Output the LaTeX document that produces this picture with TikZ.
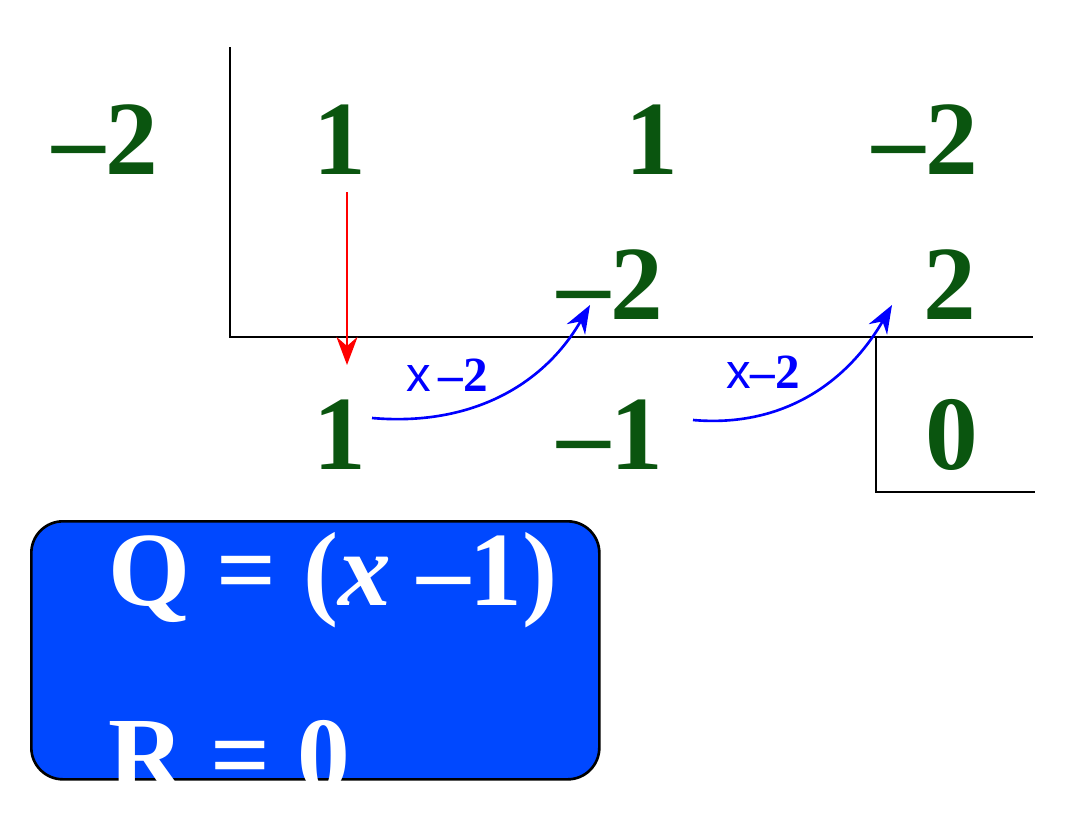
\documentclass[tikz,border=0pt]{standalone}
\usepackage{fontspec}
\usetikzlibrary{arrows.meta}
\setmainfont{Liberation Serif}
\newfontfamily\lsans{Liberation Sans}
\definecolor{dgreen}{RGB}{10,85,15}
\definecolor{boxblue}{RGB}{0,72,255}
\tikzset{num/.style={text=dgreen,font=\fontsize{60}{64}\selectfont\bfseries,inner sep=0pt},
  mul/.style={text=blue,font=\fontsize{28}{30}\selectfont,inner sep=0pt}}
\begin{document}
\begin{tikzpicture}[x=0.02cm,y=-0.02cm,line width=1.5pt]
  \useasboundingbox (0,0) rectangle (1070,839);
  \node[num] (d) at (105,140) {\textendash2};
  \node[num] (a1) at (340,140) {1};
  \node[num] (a2) at (652,140) {1};
  \node[num] (a3) at (925,140) {\textendash2};
  \node[num] (m2) at (610,285) {\textendash2};
  \node[num] (m3) at (950,285) {2};
  \node[num] (q1) at (340,435) {1};
  \node[num] (q2) at (610,435) {\textendash1};
  \node[num] (r) at (952,435) {0};
  \draw (230,47) -- (230,337) -- (1033,337);
  \draw (876,337) -- (876,492) -- (1035,492);
  \coordinate (t1) at (347,192);
  \coordinate (h1) at (347,365);
  \draw[red,-{Stealth[length=16pt,width=12pt]}] (t1) -- (h1);
  \coordinate (s1) at (372,418);
  \coordinate (e1) at (590,305);
  \coordinate (s2) at (693,420);
  \coordinate (e2) at (892,305);
  \draw[blue,-{Stealth[length=16pt,width=12pt]}] (s1) to[out=-5,in=240] (e1);
  \draw[blue,-{Stealth[length=16pt,width=12pt]}] (s2) to[out=-5,in=240] (e2);
  \node[mul] (k1) at (447,375) {{\lsans x}\,\textbf{\textendash2}};
  \node[mul] (k2) at (763,372) {{\lsans x}\textbf{\textendash2}};
  \node[draw,fill=boxblue,rounded corners=18pt,minimum width=568*0.02cm,
    minimum height=258*0.02cm,anchor=north west] (box) at (30,520) {};
  \node[text=white,anchor=west,inner sep=0pt,align=left,
    font=\fontsize{60}{105}\selectfont\bfseries] (qr) at (107,662)
    {Q = (\textit{x} \textendash1)\\R = 0};
\end{tikzpicture}
\end{document}
